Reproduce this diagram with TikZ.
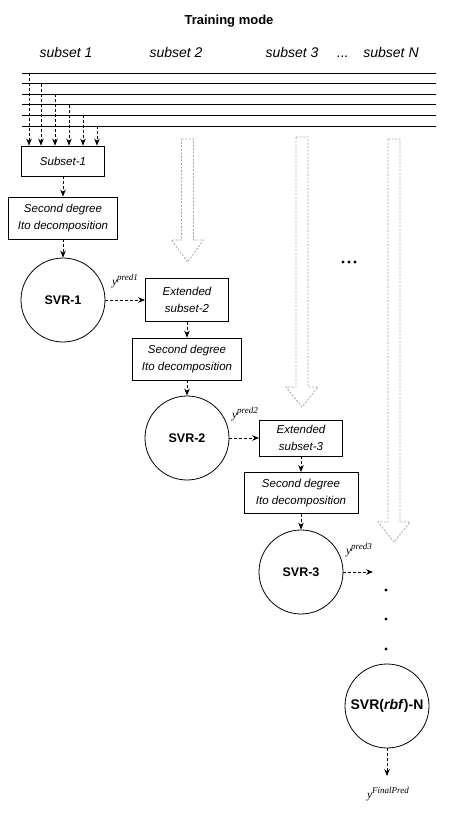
\documentclass[tikz,border=0pt]{standalone}
\usepackage{fontspec}
\setmainfont{Liberation Sans}
\newfontfamily\timesf{Liberation Serif}
\usetikzlibrary{arrows.meta}
\usetikzlibrary{positioning}
\tikzstyle{box}=[draw, line width=0.8pt, minimum width=83pt, minimum height=30pt, inner sep=2pt, align=center, font=\fontsize{11.5}{17}\selectfont\itshape]
\tikzstyle{svr}=[draw, circle, line width=0.8pt, minimum size=84pt, inner sep=0pt, font=\fontsize{12.5}{15}\selectfont\bfseries]
\tikzstyle{flow}=[->, line width=0.8pt, dash pattern=on 3pt off 2pt]
\tikzstyle{setlabel}=[text height=10pt, text depth=3pt, font=\fontsize{14}{16}\selectfont\itshape]
\tikzstyle{pred}=[inner sep=0pt, font=\timesf\itshape\fontsize{11.5}{13}\selectfont]
\tikzstyle{ghost}=[draw=gray!70, line width=0.8pt, dash pattern=on 2pt off 1.5pt]
\newcommand{\ghostarrow}[4]{%
  \draw[ghost] (#1-6,#2) -- (#1+6,#2) -- (#1+6,#3) -- (#1+16,#3) -- (#1,#4)
    -- (#1-16,#3) -- (#1-6,#3) -- cycle;}
\newcommand{\predtxt}[1]{y\raisebox{0.85ex}{\fontsize{9}{9}\selectfont #1}}

\begin{document}
\begin{tikzpicture}[thick,>={Stealth[length=7pt,width=5.5pt]},x=1pt,y=-1pt]
    \useasboundingbox (0,0) rectangle (474,814);
    \node[font=\fontsize{13}{15}\selectfont\bfseries] (title) at (229,21) {Training mode};
    \node[setlabel] (set1) at (66,54) {subset 1};
    \node[setlabel] (set2) at (176,54) {subset 2};
    \node[setlabel] (set3) at (292,54) {subset 3};
    \node[setlabel] (setdots) at (343,54) {...};
    \node[setlabel] (setN) at (391,54) {subset N};

    % data rows
    \foreach \i/\x in {0/29,1/41,2/55,3/69,4/83,5/97}{
      \draw[line width=1pt] (22,73+10.6*\i) -- (436,73+10.6*\i);
      \coordinate (row\i) at (\x,73+10.6*\i);
    }

    \node[box] (sub1) at (63,161) {Subset-1};
    \node[box, minimum width=109pt, minimum height=42pt] (ito1) at (63,218) {Second degree\\Ito decomposition};
    \node[svr] (svr1) at (63,300) {SVR-1};
    \node[box, minimum height=43pt] (ext2) at (187,300) {Extended\\subset-2};
    \node[box, minimum width=109pt, minimum height=42pt] (ito2) at (187,359) {Second degree\\Ito decomposition};
    \node[svr] (svr2) at (187,438) {SVR-2};
    \node[box, minimum height=36pt] (ext3) at (301,438) {Extended\\subset-3};
    \node[box, minimum width=114pt, minimum height=41pt] (ito3) at (301,493) {Second degree\\Ito decomposition};
    \node[svr] (svr3) at (301,572) {SVR-3};
    \node[svr, font=\fontsize{14}{16}\selectfont\bfseries] (svrN) at (387,706) {SVR(\textit{rbf})-N};

    \node[pred] (pred1) at (125,281) {\predtxt{pred1}};
    \node[pred] (pred2) at (245,414) {\predtxt{pred2}};
    \node[pred] (pred3) at (359,550) {\predtxt{pred3}};
    \coordinate (out3) at (373,572);
    \coordinate (fin) at (387,776);
    \node[pred] (finlab) at (388,794) {\predtxt{FinalPred}};

    \foreach \i in {0,...,5}
      \draw[flow] (row\i) -- (row\i |- sub1.north);
    \draw[flow] (sub1) -- (ito1);
    \draw[flow] (ito1) -- (svr1);
    \draw[flow] (svr1) -- (ext2);
    \draw[flow] (ext2) -- (ito2);
    \draw[flow] (ito2) -- (svr2);
    \draw[flow] (svr2) -- (ext3);
    \draw[flow] (ext3) -- (ito3);
    \draw[flow] (ito3) -- (svr3);
    \draw[flow] (svr3) -- (out3);
    \draw[flow] (svrN) -- (fin);

    % subsets still to come
    \ghostarrow{187.5}{139}{240}{262}
    \ghostarrow{302}{137}{387}{407}
    \ghostarrow{394}{139}{522}{542}

    \foreach \x in {343,349,355}
      \fill (\x,262) circle (1.6);
    \foreach \y in {590,619,649}
      \fill (386,\y) circle (1.6);
\end{tikzpicture}
\end{document}
